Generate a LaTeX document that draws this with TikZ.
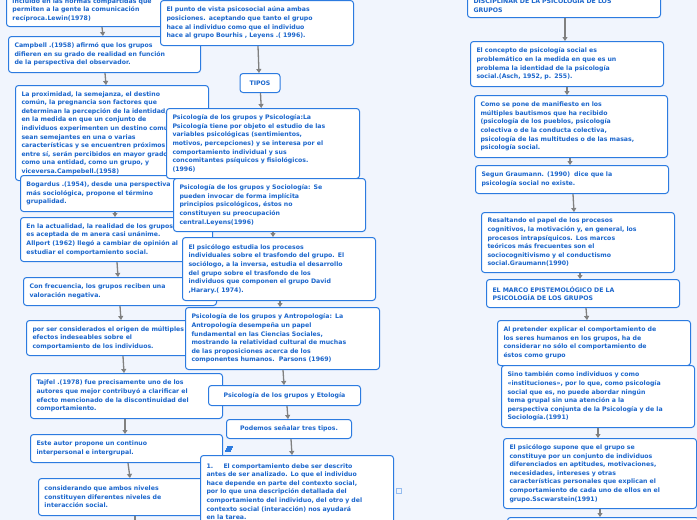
\documentclass[tikz,border=0pt]{standalone}
\usepackage{fontspec}
\setmainfont{DejaVu Sans}
\usetikzlibrary{arrows.meta}
\definecolor{bgc}{HTML}{F1F5FD}
\definecolor{bdc}{HTML}{2C7BE0}
\definecolor{txc}{HTML}{1B66CC}
\definecolor{arc}{HTML}{808080}
\tikzset{
 bx/.style={draw=bdc,line width=1pt,rounded corners=3pt,fill=white,text=txc,
   font=\fontsize{6.2}{8.6}\selectfont\bfseries,align=left,anchor=north west,
   inner xsep=6pt,inner ysep=5pt},
 ar/.style={draw=arc,line width=1.3pt,-{Triangle[length=4pt,width=5pt]}}
}
\newcommand{\bxn}[6]{\node[bx,text width=#4pt-10pt,minimum width=#4pt,minimum height=#5pt] (#1) at (#2,#3) {#6};}
\begin{document}
\begin{tikzpicture}[x=1pt,y=-1pt]
\useasboundingbox[fill=bgc] (0,0) rectangle (697,520);
% left column
\node[bx,anchor=south west,text width=154pt,minimum width=164pt] (L1) at (6,27) {\rule{0pt}{0pt}\\[14pt]incluido en las normas compartidas que\\permiten a la gente la comunicación\\recíproca.Lewin(1978)};
\bxn{L2}{8}{36}{190}{36}{Campbell .(1958) afirmó que los grupos\\difieren en su grado de realidad en función\\de la perspectiva del observador.}
\bxn{L3}{15}{85}{191}{95}{La proximidad, la semejanza, el destino\\común, la pregnancia son factores que\\determinan la percepción de la identidad,\\en la medida en que un conjunto de\\individuos experimenten un destino común,\\sean semejantes en una o varias\\características y se encuentren próximos\\entre sí, serán percibidos en mayor grado\\como una entidad, como un grupo, y\\viceversa.Campebell.(1958)}
\bxn{L4}{20}{175}{185}{36}{Bogardus .(1954), desde una perspectiva\\más sociológica, propone el término\\grupalidad.}
\bxn{L5}{20}{217}{190}{44}{En la actualidad, la realidad de los grupos\\es aceptada de m anera casi unánime.\\Allport (1962) llegó a cambiar de opinión al\\estudiar el comportamiento social.}
\bxn{L6}{23}{277}{191}{28}{Con frecuencia, los grupos reciben una\\valoración negativa.}
\bxn{L7}{26}{320}{191}{35}{por ser considerados el origen de múltiples\\efectos indeseables sobre el\\comportamiento de los individuos.}
\bxn{L8}{30}{373}{190}{45}{Tajfel .(1978) fue precisamente uno de los\\autores que mejor contribuyó a clarificar el\\efecto mencionado de la discontinuidad del\\comportamiento.}
\bxn{L9}{30}{434}{190}{28}{Este autor propone un continuo\\interpersonal e intergrupal.}
\bxn{L10}{38}{478}{190}{37}{considerando que ambos niveles\\constituyen diferentes niveles de\\interacción social.}
\coordinate (L11) at (135,535);
\draw[ar] (L1.south -| 102,0) -- (L2.north -| 103,0);
\draw[ar] (L2.south -| 105,0) -- (L3.north -| 106,0);
\draw[ar] (L4.south -| 115,0) -- (L5.north -| 115,0);
\draw[ar] (L5.south -| 117,0) -- (L6.north -| 118,0);
\draw[ar] (L6.south -| 120,0) -- (L7.north -| 121,0);
\draw[ar] (L7.south -| 123,0) -- (L8.north -| 124,0);
\draw[ar] (L8.south -| 125,0) -- (L9.north -| 125,0);
\draw[ar] (L9.south -| 128,0) -- (L10.north -| 130,0);
\draw[ar] (L10.south -| 135,0) -- (L11);
% middle column
\bxn{M1}{160}{0}{191}{45}{El punto de vista psicosocial aúna ambas\\posiciones. aceptando que tanto el grupo\\hace al individuo como que el individuo\\hace al grupo Bourhis , Leyens .( 1996).}
\node[bx,anchor=north,minimum width=40pt,minimum height=19pt,inner ysep=3pt] (T) at (260,73) {TIPOS};
\bxn{M2}{166}{108}{191}{70}{Psicología de los grupos y Psicología:La\\Psicología tiene por objeto el estudio de las\\variables psicológicas (sentimientos,\\motivos, percepciones) y se interesa por el\\comportamiento individual y sus\\concomitantes psíquicos y fisiológicos.\\(1996)}
\bxn{M3}{173}{178}{190}{53}{Psicología de los grupos y Sociología: Se\\pueden invocar de forma implícita\\principios psicológicos, éstos no\\constituyen su preocupación\\central.Leyens(1996)}
\bxn{M4}{182}{237}{191}{63}{El psicólogo estudia los procesos\\individuales sobre el trasfondo del grupo. El\\sociólogo, a la inversa, estudia el desarrollo\\del grupo sobre el trasfondo de los\\individuos que componen el grupo David\\,Harary.( 1974).}
\bxn{M5}{185}{307}{192}{62}{Psicología de los grupos y Antropología: La\\Antropología desempeña un papel\\fundamental en las Ciencias Sociales,\\mostrando la relatividad cultural de muchas\\de las proposiciones acerca de los\\componentes humanos.\ \ Parsons (1969)}
\node[bx,anchor=north west,minimum width=152pt,minimum height=20pt,inner ysep=3pt] (M6) at (208,385) {Psicología de los grupos y Etología};
\node[bx,anchor=north west,minimum width=125pt,minimum height=19pt,inner ysep=3pt] (M7) at (226,419) {Podemos señalar tres tipos.};
\bxn{M8}{200}{455}{191}{72}{1.\ \ \ \ \ El comportamiento debe ser descrito\\antes de ser analizado. Lo que el individuo\\hace depende en parte del contexto social,\\por lo que una descripción detallada del\\comportamiento del individuo, del otro y del\\contexto social (interacción) nos ayudará\\en la tarea.}
\draw[ar] (M1.south -| 258,0) -- (T.north -| 259,0);
\draw[ar] (T) -- (M2);
\draw[ar] (M3.south -| 273,0) -- (M4.north -| 273,0);
\draw[ar] (M4.south -| 280,0) -- (M5.north -| 280,0);
\draw[ar] (M5.south -| 283,0) -- (M6.north -| 284,0);
\draw[ar] (M6.south -| 287,0) -- (M7.north -| 288,0);
\draw[ar] (M7.south -| 291,0) -- (M8.north -| 292,0);
\node[inner sep=0,minimum size=6pt] (ic) at (229,449) {};
\foreach \k in {-2,0,2}{\draw[bdc,line width=1.1pt] ([xshift=-3pt+\k*0.3pt,yshift=\k pt]ic.center) -- ++(6pt,0);}
\node[draw=bdc!50,line width=0.5pt,minimum size=5pt,inner sep=0] (lk) at (399,491) {};
% right column
\node[bx,anchor=south west,text width=181pt,minimum width=192pt] (R1) at (467,18) {\rule{0pt}{0pt}\\[4pt]DISCIPLINAR DE LA PSICOLOGÍA DE LOS\\GRUPOS};
\bxn{R2}{470}{41}{191}{45}{El concepto de psicología social es\\problemático en la medida en que es un\\problema la identidad de la psicología\\social.(Asch, 1952, p. 255).}
\bxn{R3}{474}{95}{191}{62}{Como se pone de manifiesto en los\\múltiples bautismos que ha recibido\\(psicología de los pueblos, psicología\\colectiva o de la conducta colectiva,\\psicología de las multitudes o de las masas,\\psicología social.}
\bxn{R4}{475}{165}{191}{28}{Segun Graumann. (1990)\ \ dice que la\\psicología social no existe.}
\bxn{R5}{481}{212}{191}{60}{Resaltando el papel de los procesos\\cognitivos, la motivación y, en general, los\\procesos intrapsíquicos. Los marcos\\teóricos más frecuentes son el\\sociocognitivismo y el conductismo\\social.Graumann(1990)}
\bxn{R6}{486}{279}{191}{28}{EL MARCO EPISTEMOLÓGICO DE LA\\PSICOLOGÍA DE LOS GRUPOS}
\bxn{R7}{497}{320}{191}{45}{Al pretender explicar el comportamiento de\\los seres humanos en los grupos, ha de\\considerar no sólo el comportamiento de\\éstos como grupo}
\bxn{R8}{501}{365}{191}{62}{Sino también como individuos y como\\«instituciones», por lo que, como psicología\\social que es, no puede abordar ningún\\tema grupal sin una atención a la\\perspectiva conjunta de la Psicología y de la\\Sociología.(1991)}
\bxn{R9}{503}{438}{191}{70}{El psicólogo supone que el grupo se\\constituye por un conjunto de individuos\\diferenciados en aptitudes, motivaciones,\\necesidades, intereses y otras\\características personales que explican el\\comportamiento de cada uno de ellos en el\\grupo.Sscwarstein(1991)}
\node[bx,minimum width=191pt,minimum height=30pt] (R10) at (507,517) {};
\draw[ar] (R1.south -| 565,0) -- (R2.north -| 565,0);
\draw[ar] (R2.south -| 567,0) -- (R3.north -| 567,0);
\draw[ar] (R3.south -| 570,0) -- (R4.north -| 570,0);
\draw[ar] (R4.south -| 573,0) -- (R5.north -| 574,0);
\draw[ar] (R5.south -| 580,0) -- (R6.north -| 580,0);
\draw[ar] (R6.south -| 586,0) -- (R7.north -| 587,0);
\draw[ar] (R8.south -| 598,0) -- (R9.north -| 598,0);
\draw[ar] (R9.south -| 600,0) -- (R10.north -| 600,0);
\end{tikzpicture}
\end{document}
